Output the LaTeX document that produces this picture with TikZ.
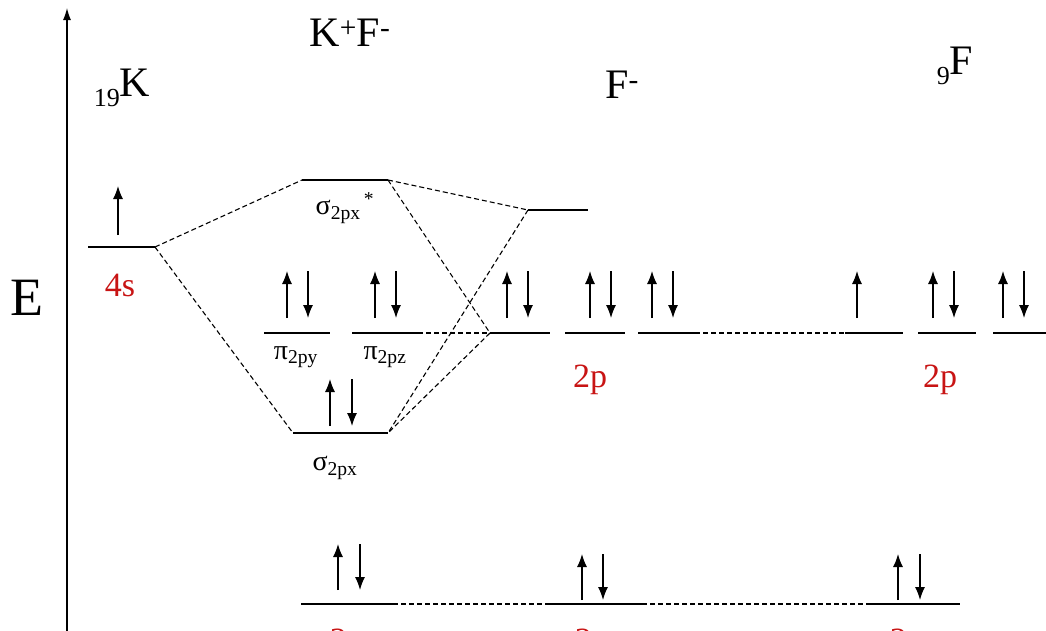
\documentclass[tikz,border=0pt]{standalone}
\usepackage{fontspec}
\setmainfont{Liberation Serif}
\usetikzlibrary{arrows.meta}
\definecolor{myred}{RGB}{200,20,20}
\begin{document}
\begin{tikzpicture}[x=1pt,y=-1pt,
  lvl/.style={line width=1.5pt},
  dsh/.style={line width=1.1pt,dash pattern=on 5pt off 3pt},
  el/.style={-{Latex[length=13pt,width=10pt]},line width=1.3pt},
  big/.style={font=\fontsize{42}{46}\selectfont},
  lab/.style={font=\fontsize{28}{32}\selectfont},
  redl/.style={font=\fontsize{34}{38}\selectfont,text=myred}]
\useasboundingbox (0,0) rectangle (1046,630);
% axis
\coordinate (ab) at (67,640); \coordinate (at) at (67,8);
\draw[-{Latex[length=12pt,width=8pt]},line width=1.2pt] (ab) -- (at);
\node[font=\fontsize{54}{58}\selectfont] (E) at (27,298) {E};
\node[big] (K) at (122,88) {\raisebox{-0.25em}{\fontsize{26}{28}\selectfont 19}K};
\node[big] (KF) at (350,33) {K\textsuperscript{+}F\textsuperscript{-}};
\node[big] (Fm) at (622,85) {F\textsuperscript{-}};
\node[big] (F) at (955,66) {\raisebox{-0.25em}{\fontsize{26}{28}\selectfont 9}F};
% levels
\coordinate (k1) at (88,247); \coordinate (k2) at (155,247);
\coordinate (ss1) at (302,180); \coordinate (ss2) at (388,180);
\coordinate (ft1) at (528,210); \coordinate (ft2) at (588,210);
\coordinate (s1) at (293,433); \coordinate (s2) at (388,433);
\coordinate (py1) at (264,333); \coordinate (py2) at (330,333);
\coordinate (pz1) at (352,333); \coordinate (pz2) at (418,333);
\coordinate (a1) at (490,333); \coordinate (a2) at (550,333);
\coordinate (b1) at (565,333); \coordinate (b2) at (625,333);
\coordinate (c1) at (638,333); \coordinate (c2) at (695,333);
\coordinate (d1) at (845,333); \coordinate (d2) at (903,333);
\coordinate (e1) at (918,333); \coordinate (e2) at (976,333);
\coordinate (f1) at (993,333); \coordinate (f2) at (1046,333);
\coordinate (g1) at (301,604); \coordinate (g2) at (393,604);
\coordinate (h1) at (550,604); \coordinate (h2) at (642,604);
\coordinate (i1) at (868,604); \coordinate (i2) at (960,604);
\foreach \p/\q in {k1/k2,ss1/ss2,ft1/ft2,s1/s2,py1/py2,pz1/pz2,a1/a2,b1/b2,c1/c2,d1/d2,e1/e2,f1/f2,g1/g2,h1/h2,i1/i2}
  \draw[lvl] (\p) -- (\q);
% dashed connectors
\draw[dsh] (k2) -- (ss1);
\draw[dsh] (ss2) -- (ft1);
\draw[dsh] (ss2) -- (a1);
\draw[dsh] (ft1) -- (s2);
\draw[dsh] (a1) -- (s2);
\draw[dsh] (k2) -- (s1);
\draw[dsh] (pz2) -- (a1);
\draw[dsh] (c2) -- (d1);
\draw[dsh] (g2) -- (h1);
\draw[dsh] (h2) -- (i1);
% electrons
\draw[el] (118,235) -- (118,186);
\foreach \x in {287,375,507,590,652,933,1003}{
  \draw[el] (\x,318) -- (\x,271);
  \draw[el] (\x+21,271) -- (\x+21,318);}
\draw[el] (857,318) -- (857,271);
\draw[el] (330,426) -- (330,379);
\draw[el] (352,379) -- (352,426);
\draw[el] (338,590) -- (338,544);
\draw[el] (360,544) -- (360,590);
\draw[el] (582,600) -- (582,554);
\draw[el] (603,554) -- (603,600);
\draw[el] (898,600) -- (898,554);
\draw[el] (920,554) -- (920,600);
% labels
\node[redl] (l4s) at (120,285) {4s};
\node[lab] (lss) at (345,208) {σ\textsubscript{2px}\textsuperscript{\,*}};
\node[lab] (lpy) at (296,357) {π\textsubscript{2py}};
\node[lab] (lpz) at (385,357) {π\textsubscript{2pz}};
\node[lab] (ls) at (335,468) {σ\textsubscript{2px}};
\node[redl] (l2p1) at (590,380) {2p};
\node[redl] (l2p2) at (940,380) {2p};
\node[redl] (l2s1) at (345,640) {2s};
\node[redl] (l2s2) at (590,640) {2s};
\node[redl] (l2s3) at (905,640) {2s};
\end{tikzpicture}
\end{document}
